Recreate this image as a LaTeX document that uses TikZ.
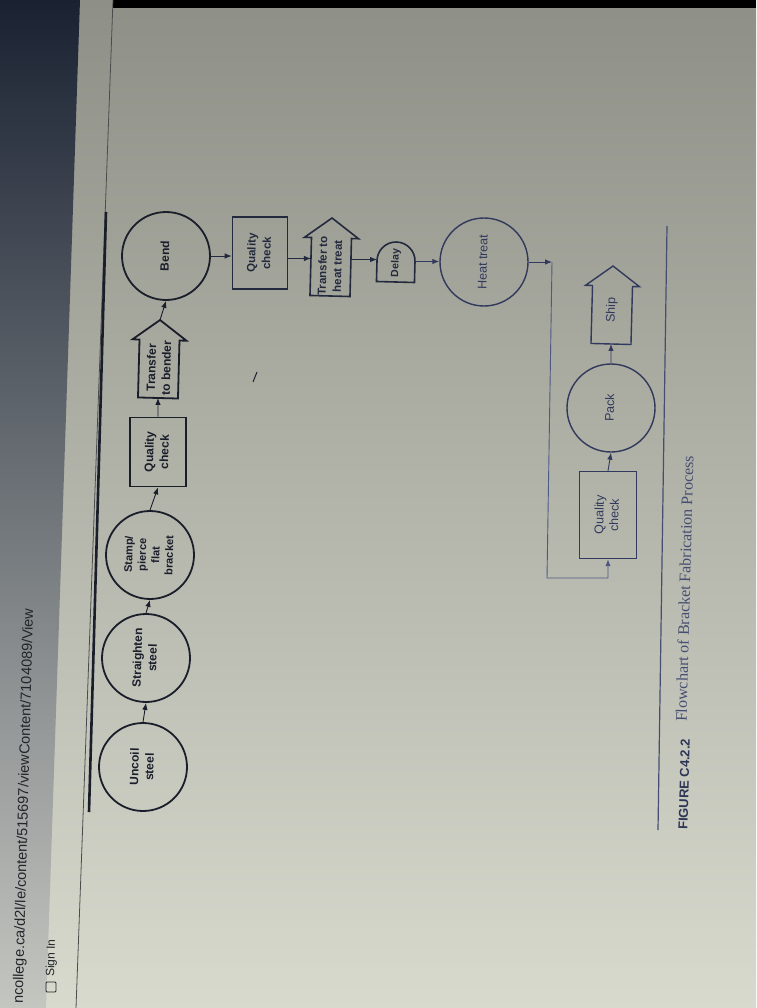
\documentclass[tikz,border=0pt]{standalone}
\usepackage{fontspec}
\setmainfont{Liberation Sans}
\newfontfamily\capserif{Liberation Serif}
\usetikzlibrary{arrows.meta}
\definecolor{inkA}{HTML}{1A1E2B}
\definecolor{inkB}{HTML}{232A3E}
\definecolor{inkC}{HTML}{313A5C}
\definecolor{inkD}{HTML}{4E5884}
\definecolor{scrTop}{HTML}{8E8F86}
\definecolor{scrMid}{HTML}{CDCFC3}
\definecolor{scrBot}{HTML}{D8DACE}
\definecolor{chrTop}{HTML}{1A2232}
\definecolor{chrMid}{HTML}{8A8E92}
\definecolor{chrBot}{HTML}{C4C6C0}
\definecolor{urlInk}{HTML}{22252A}
\definecolor{capA}{HTML}{2E3656}
\definecolor{capB}{HTML}{454E72}
\newcommand{\rt}[1]{\rotatebox{88.5}{\begin{tabular}{@{}c@{}}#1\end{tabular}}}
\newcommand{\flowarrow}[3]{%
  \begin{scope}[shift={#1}, rotate=88.5]
    \draw[#3, line join=miter] (-39,-20) -- (19,-20) -- (19,-27) -- (39,0) -- (19,27) -- (19,20) -- (-39,20) -- cycle;
    \coordinate (#2-base) at (-39,0);
    \coordinate (#2-tip) at (39,0);
    \coordinate (#2-l) at (-2,-20);
    \coordinate (#2-r) at (-2,20);
  \end{scope}}
\begin{document}
\begin{tikzpicture}[x=1pt,y=-1pt,
  proc/.style={circle, draw, minimum size=88pt, inner sep=0pt},
  insp/.style={rectangle, draw, inner sep=0pt},
  darkln/.style={draw=inkA, line width=1.8pt},
  midln/.style={draw=inkB, line width=1.6pt},
  lightln/.style={draw=inkC, line width=1.4pt},
  darktx/.style={text=inkA, font=\bfseries\fontsize{12}{15}\selectfont},
  midtx/.style={text=inkB, font=\bfseries\fontsize{11.5}{15}\selectfont},
  lighttx/.style={text=inkC, font=\fontsize{12.5}{15}\selectfont},
  flow/.style={-{Latex[length=7pt,width=5.5pt]}, line width=0.9pt},
  rtext/.style={rotate=88.5, anchor=west, inner sep=0pt},
]
\useasboundingbox (0,0) rectangle (756,1008);
% screen background
\shade[top color=scrTop, middle color=scrMid, bottom color=scrBot] (0,0) rectangle (756,1008);
\shade[top color=chrTop, middle color=chrMid, bottom color=chrBot] (0,0) -- (80,0) -- (46,1008) -- (0,1008) -- cycle;
\fill[black] (113,0) rectangle (756,8);
\draw[line width=0.8pt, black!70] (113,0) -- (76,1008);
% browser chrome text
\node[rtext, text=urlInk, font=\fontsize{14.5}{16}\selectfont] (url) at (19,1004) {ncollege.ca/d2l/le/content/515697/viewContent/7104089/View};
\draw[urlInk, line width=0.8pt, rounded corners=1pt] (46,982) rectangle (56,992);
\node[rtext, text=urlInk, font=\fontsize{12}{14}\selectfont] (signin) at (51,977) {Sign In};
% figure rules
\draw[inkA, line width=2.6pt] (106,212) -- (89,812);
\draw[capB, line width=1.2pt] (667,226) -- (658,830);
% process row
\node[proc, darkln, darktx] (uncoil) at (143,767) {\rt{Uncoil\\steel}};
\node[proc, darkln, darktx] (straight) at (146,658) {\rt{Straighten\\steel}};
\node[proc, darkln, text=inkA, font=\bfseries\fontsize{11}{13.5}\selectfont] (stamp) at (150,555) {\rt{Stamp/\\pierce\\flat\\bracket}};
\node[insp, darkln, darktx, minimum width=56pt, minimum height=69pt] (qc1) at (158,452) {\rt{Quality\\check}};
\flowarrow{(159,359)}{tbs}{darkln}
\node[darktx, inner sep=0pt] (tb) at (160,368) {\rt{Transfer\\to bender}};
\node[proc, darkln, darktx] (bend) at (166,256) {\rt{Bend}};
% second row
\node[insp, midln, midtx, minimum width=55pt, minimum height=72pt] (qc2) at (260,253) {\rt{Quality\\check}};
\flowarrow{(331,257)}{thts}{midln}
\node[midtx, inner sep=0pt] (tht) at (331,266) {\rt{Transfer to\\heat treat}};
\begin{scope}[shift={(396,261)}, rotate=88.5]
  \draw[midln] (-21,-19) -- (0,-19) .. controls (10.5,-19) and (19,-10.5) .. (19,0) .. controls (19,10.5) and (10.5,19) .. (0,19) -- (-21,19) -- cycle;
  \coordinate (delay-l) at (0,-19);
  \coordinate (delay-r) at (0,19);
\end{scope}
\node[midtx, font=\bfseries\fontsize{10.5}{13}\selectfont, inner sep=0pt] (delay) at (396,263) {\rt{Delay}};
\node[proc, lightln, lighttx] (heat) at (484,262) {\rt{Heat treat}};
% last row
\node[insp, lightln, lighttx, minimum width=57pt, minimum height=87pt] (qc3) at (608,515) {\rt{Quality\\check}};
\node[proc, lightln, lighttx] (pack) at (611,408) {\rt{Pack}};
\flowarrow{(612,305)}{ships}{lightln}
\node[lighttx, inner sep=0pt] (ship) at (612,310) {\rt{Ship}};
% connectors
\draw[flow, inkA] (uncoil.north) -- (straight.south);
\draw[flow, inkA] (straight.north) -- (stamp.south);
\draw[flow, inkA] (stamp.north) -- (qc1.south);
\draw[flow, inkA] (qc1.north) -- (tbs-base);
\draw[flow, inkA] (tbs-tip) -- (bend.south);
\draw[flow, inkB] (bend.east) -- (bend.east -| qc2.west);
\draw[flow, inkB] (qc2.east |- thts-l) -- (thts-l);
\draw[flow, inkB] (thts-r) -- (thts-r -| delay-l);
\draw[flow, inkC] (delay-r) -- (delay-r -| heat.west);
\coordinate (turnA) at (552,262);
\coordinate (turnB) at (547,578);
\draw[flow, inkC] (heat.east) -- (turnA);
\draw[flow, inkD] (turnA) -- (turnB) -- (turnB -| qc3.south) -- (qc3.south);
\draw[flow, inkC] (qc3.north) -- (pack.south);
\draw[flow, inkC] (pack.north) -- (ships-base);
% stray mark
\draw[inkA, line width=1pt] (253,382) -- (257,372);
% caption
\node[rtext, text=capA, font=\bfseries\fontsize{13}{15}\selectfont] (figno) at (683,830) {FIGURE C4.2.2};
\node[rtext, text=capB, font=\capserif\fontsize{16}{18}\selectfont] (figtitle) at (681,722) {Flowchart of Bracket Fabrication Process};
\end{tikzpicture}
\end{document}
